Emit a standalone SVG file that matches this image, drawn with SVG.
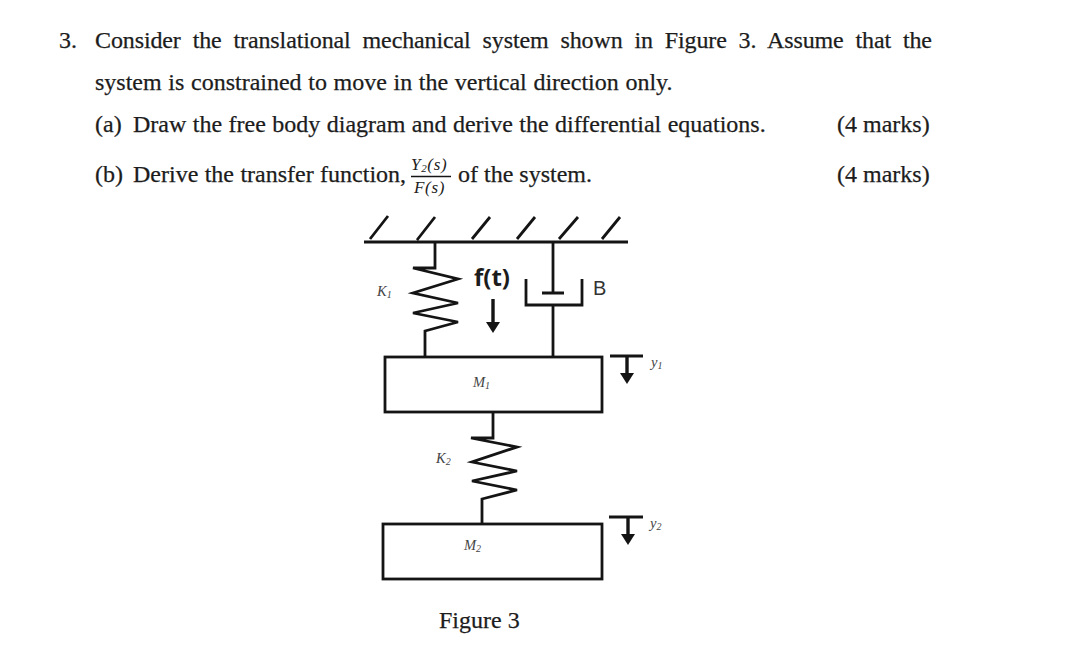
<svg xmlns="http://www.w3.org/2000/svg" width="1080" height="668" viewBox="0 0 1080 668">
<style>
.t{font-family:"Liberation Serif","Times New Roman",serif;font-size:24px;fill:#1c1c1c;stroke:#1c1c1c;stroke-width:.25}
.l{fill:none;stroke:#141414;stroke-width:2.8}
.thick{stroke-width:3.4}
.rule{stroke-width:1.6}
.m{font-family:"Liberation Serif","Times New Roman",serif;font-style:italic;font-size:14.500px;fill:#444}
.s{font-size:10px}
.f{font-family:"Liberation Serif","Times New Roman",serif;font-style:italic;font-size:17px;letter-spacing:.7px;fill:#222}
.a{fill:#141414;stroke:none}
</style>
<rect width="1080" height="668" fill="#fff"/>
<g id="question">
<text class="t" x="59" y="48">3.</text>
<text class="t" x="95" y="48" textLength="837" lengthAdjust="spacing" style="word-spacing:6px">Consider the translational mechanical system shown in Figure 3. Assume that the</text>
<text class="t" x="95" y="90" style="word-spacing:.65px">system is constrained to move in the vertical direction only.</text>
<text class="t" x="95" y="132">(a)</text>
<text class="t" x="133" y="132" style="word-spacing:.45px">Draw the free body diagram and derive the differential equations.</text>
<text class="t" x="837" y="132">(4 marks)</text>
<text class="t" x="95" y="182">(b)</text>
<text class="t" x="133" y="182" style="word-spacing:.4px">Derive the transfer function,</text>
<text class="f" x="411" y="170">Y<tspan font-size="11" dy="2">2</tspan><tspan dy="-2">(s)</tspan></text>
<path class="l rule" d="M411 176.500H451"/>
<text class="f" x="414" y="193">F(s)</text>
<text class="t" x="458" y="182">of the system.</text>
<text class="t" x="837" y="182">(4 marks)</text>
</g>
<g id="ground">
<path class="l" d="M364 242H628M370 239L388 216M417 240L435 217M472 239L490 217M517 239L535 217M559 239L578 217M602 239L620 217"/>
</g>
<g id="connectors">
<path id="spring-k1" class="l" d="M435 242V268H413L458 279L413 293L458 303L413 313L458 322L425 331V357"/>
<path id="damper-rod-top" class="l" d="M553 242V293"/>
<path id="damper-rod-bottom" class="l" d="M553 305V357"/>
<path id="spring-k2" class="l" d="M493 413V438H471L517 447L472 462L517 471L472 481L517 490L482 499V524"/>
</g>
<g id="damper">
<path class="l" d="M542 293H564M526 279V305H582V279"/>
<text x="593" y="295" font-family="Liberation Sans,Arial,sans-serif" font-size="20" fill="#333">B</text>
</g>
<g id="force">
<text x="474" y="286" font-family="Open Sans,DejaVu Sans,sans-serif" font-weight="700" font-size="24" fill="#1c1c1c">f(t)</text>
<path class="l thick" d="M493 299V325"/>
<path class="a" d="M486 322H500L493 333Z"/>
</g>
<g id="K1"><text class="m" x="377" y="296">K<tspan class="s" dy="2">1</tspan></text></g>
<g id="K2"><text class="m" x="436" y="463">K<tspan class="s" dy="2">2</tspan></text></g>
<g id="M1">
<rect class="l" x="385" y="357" width="217" height="55"/>
<text class="m" x="473" y="387">M<tspan class="s" dy="2">1</tspan></text>
</g>
<g id="M2">
<rect class="l" x="383" y="524" width="219" height="55"/>
<text class="m" x="464" y="550">M<tspan class="s" dy="2">2</tspan></text>
</g>
<g id="y1">
<path class="l" d="M610 356H643"/>
<path class="l thick" d="M627 356V376"/>
<path class="a" d="M620 373H634L627 384Z"/>
<text class="m" x="651" y="367">y<tspan class="s" dy="2">1</tspan></text>
</g>
<g id="y2">
<path class="l" d="M609 517H643"/>
<path class="l thick" d="M628 517V537"/>
<path class="a" d="M621 534H635L628 545Z"/>
<text class="m" x="650" y="528">y<tspan class="s" dy="2">2</tspan></text>
</g>
<g id="caption"><text class="t" x="439" y="628">Figure 3</text></g>
</svg>
